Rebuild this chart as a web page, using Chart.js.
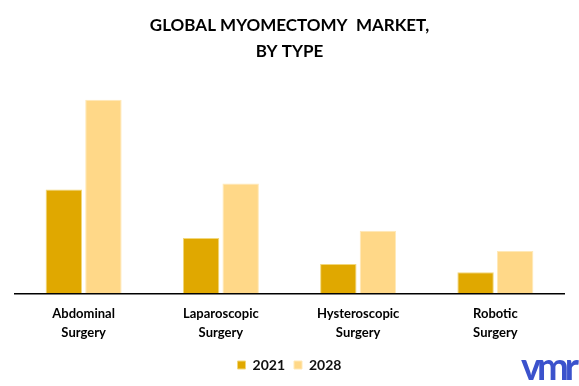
<!DOCTYPE html>
<html lang="en">

<head>
    <meta charset="UTF-8">
    <title>Global Myomectomy Market, By Type</title>
    <script src="https://cdn.jsdelivr.net/npm/chart.js"></script>
    <style>
        body { margin: 0; background: #fff; }
        #wrap { position: relative; width: 579px; height: 386px; }
        #logo {
            position: absolute; right: 4px; top: 342px;
            font-family: Lato, sans-serif; font-size: 38px; font-weight: 700;
            color: #3b52cc; letter-spacing: -4px;
        }
    </style>
</head>

<body>
    <div id="wrap">
        <canvas id="typeChart" width="579" height="386"></canvas>
        <div id="logo">vmr</div>
    </div>
    <script>
        // values (relative units)
        var categories = [['Abdominal', 'Surgery'], ['Laparoscopic', 'Surgery'], ['Hysteroscopic', 'Surgery'], ['Robotic', 'Surgery']];
        var seriesNames = ['2021', '2028'];
        var values2021 = [10.3, 5.5, 2.9, 2.1];
        var values2028 = [19.2, 10.9, 6.2, 4.2];

        var ctx = document.getElementById('typeChart').getContext('2d');
        var typeChart = new Chart(ctx, {
            type: 'bar',
            data: {
                labels: categories,
                datasets: [{
                    label: seriesNames[0],
                    data: values2021,
                    backgroundColor: '#e0a800',
                    borderColor: '#f2d77a',
                    borderWidth: 1
                }, {
                    label: seriesNames[1],
                    data: values2028,
                    backgroundColor: '#ffd888',
                    borderColor: '#ffe9b8',
                    borderWidth: 1
                }]
            },
            options: {
                responsive: false,
                animation: false,
                categoryPercentage: 0.577,
                barPercentage: 0.92,
                layout: { padding: { left: 15, right: 15, top: 12, bottom: 4 } },
                plugins: {
                    title: {
                        display: true,
                        text: ['GLOBAL MYOMECTOMY  MARKET,', 'BY TYPE'],
                        color: '#000',
                        font: { family: 'Lato', size: 17, weight: 'bold', lineHeight: 1.55 },
                        padding: { top: 0, bottom: 17 }
                    },
                    legend: {
                        position: 'bottom',
                        labels: {
                            color: '#111',
                            boxWidth: 8,
                            boxHeight: 8,
                            padding: 9,
                            font: { family: 'Lato', size: 14, weight: 'bold' }
                        }
                    },
                    tooltip: { enabled: false }
                },
                scales: {
                    x: {
                        grid: { display: false },
                        border: { color: '#000', width: 1.5 },
                        afterFit: function (scale) {
                            scale.height += 4; // lift the baseline a little
                        },
                        ticks: {
                            color: '#000',
                            padding: 3,
                            font: { family: 'Lato', size: 13, weight: 'bold', lineHeight: 1.45 }
                        }
                    },
                    y: {
                        display: false,
                        min: 0,
                        max: 21
                    }
                }
            }
        });
    </script>
</body>

</html>
